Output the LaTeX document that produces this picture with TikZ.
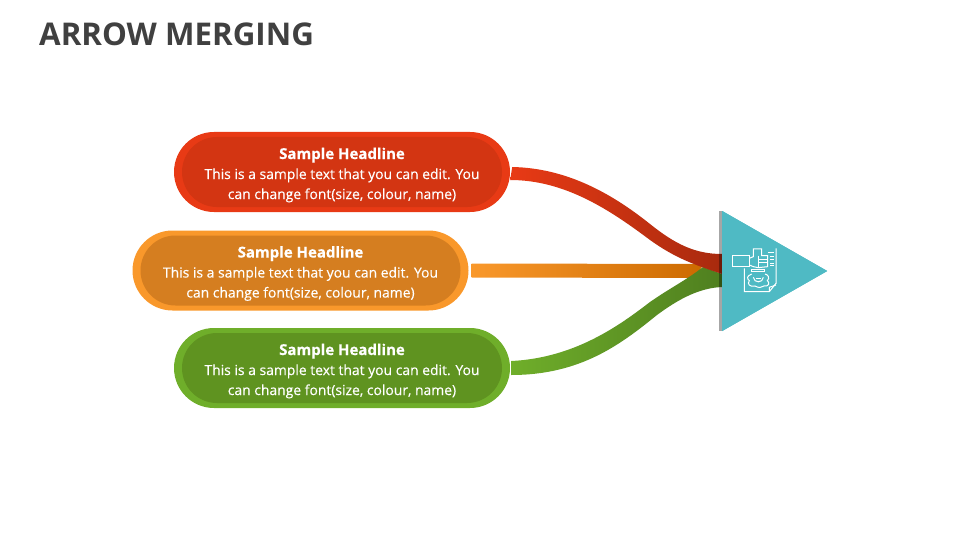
\documentclass[tikz,border=0pt]{standalone}
\usepackage{fontspec}
\setmainfont{Open Sans}
\newfontfamily\semifont[FakeBold=0.35]{Open Sans}
\usetikzlibrary{calc,shapes.geometric}
\definecolor{redOuter}{HTML}{E83A15}
\definecolor{redInner}{HTML}{D33512}
\definecolor{redDark}{HTML}{A82A0E}
\definecolor{orangeOuter}{HTML}{F9982B}
\definecolor{orangeInner}{HTML}{D57E20}
\definecolor{orangeDark}{HTML}{CC6A00}
\definecolor{greenOuter}{HTML}{6FAE2A}
\definecolor{greenInner}{HTML}{5F9320}
\definecolor{greenDark}{HTML}{4F7F1F}
\definecolor{headTeal}{HTML}{4FBAC4}
\newcommand{\pilltext}{{\fontsize{15}{20}\selectfont\bfseries Sample Headline}\\This is a sample text that you can edit. You\\can change font(size, colour, name)}
\tikzset{
	outerpill/.style = {minimum width=336pt, minimum height=80pt, rounded corners=40pt, inner sep=0pt},
	innerpill/.style = {minimum width=320pt, minimum height=70pt, rounded corners=35pt, inner sep=0pt},
	pilllabel/.style = {text=white, align=center, inner sep=0pt, font=\fontsize{13.9}{20}\semifont},
	headshape/.style = {isosceles triangle, isosceles triangle stretches, minimum width=120pt, minimum height=105pt, inner sep=0pt, fill=headTeal, anchor=west},
	iconline/.style = {draw=white, line width=1pt}
}
\begin{document}
\begin{tikzpicture}[x=1pt, y=-1pt]
	\useasboundingbox (0,0) rectangle (960,540);
	\node[anchor=west, inner sep=0pt, text=black!75, font=\fontsize{31.3}{36}\selectfont\bfseries] (title) at (39,34) {ARROW MERGING};

	% pills
	\node[outerpill, fill=redOuter] (redbox) at (342,172) {};
	\node[innerpill, fill=redInner] (redinner) at (redbox) {};
	\node[pilllabel] (redtext) at ($(redbox)+(0,3)$) {\pilltext};
	\node[outerpill, fill=orangeOuter] (orangebox) at (300.5,270.5) {};
	\node[innerpill, fill=orangeInner] (orangeinner) at (orangebox) {};
	\node[pilllabel] (orangetext) at ($(orangebox)+(0,3)$) {\pilltext};
	\node[outerpill, fill=greenOuter] (greenbox) at (342,368) {};
	\node[innerpill, fill=greenInner] (greeninner) at (greenbox) {};
	\node[pilllabel] (greentext) at ($(greenbox)+(0,3)$) {\pilltext};

	\node[headshape] (arrowhead) at (722,271) {};

	% ribbons, orange goes first
	\shade[left color=orangeOuter, right color=orangeDark]
		($(orangebox.east)+(3,-7)$) -- ($(arrowhead.west)+(-18,-7)$) -- ($(arrowhead.west)+(-28,7)$) -- ($(orangebox.east)+(3,7)$) -- cycle;
	\shade[left color=greenOuter, right color=greenDark]
		($(greenbox.east)+(1,-7)$) .. controls (575,358) and (620,325) .. (650,302)
		.. controls (670,288) and (685,281) .. (703,267) -- ($(arrowhead.west)+(0,3)$) -- ($(arrowhead.west)+(0,16)$)
		.. controls (700,288) and (680,298) .. (657,315)
		.. controls (620,345) and (580,375) .. ($(greenbox.east)+(1,7)$) -- cycle;
	\shade[left color=redOuter, right color=redDark]
		($(redbox.east)+(2,-5)$) .. controls (565,168) and (610,192) .. (650,224)
		.. controls (675,244) and (695,254) .. ($(arrowhead.west)+(0,-17)$) -- ($(arrowhead.west)+(0,3)$)
		.. controls (695,265) and (675,258) .. (650,240)
		.. controls (610,210) and (565,180) .. ($(redbox.east)+(0,8)$) -- cycle;

	% shadow of the head
	\fill[black, opacity=.35] ($(arrowhead.right corner)+(-3,0)$) rectangle (arrowhead.left corner);
	\node[headshape] at (arrowhead.west) {};

	% icon, zoomed coordinates
	\begin{scope}[shift={(690,200)}, x=.3333pt, y=-.3333pt]
		\draw[iconline] (128,168) rectangle (178,200);
		\draw[iconline] (178,175) -- (190,170) -- (190,147) -- (215,147) -- (215,167) -- (233,167) -- (233,200) -- (205,203) -- (190,200) -- (178,195);
		\draw[iconline] (205,178) -- (233,178) (205,189) -- (233,189) (205,167) -- (205,200);
		\draw[iconline] (183,208) rectangle (222,216);
		\draw[iconline] (163,205) -- (163,275) -- (238,275) -- (258,250) -- (258,145);
		\draw[iconline] (238,275) -- (238,262) -- (258,255);
		\draw[iconline] (235,158) -- (252,158) (240,170) -- (252,170) (240,180) -- (252,180) (240,190) -- (252,190) (240,197) -- (252,197);
		\draw[iconline] (185,222) .. controls (170,228) and (170,236) .. (178,242) .. controls (170,252) and (180,262) .. (195,258)
			.. controls (205,264) and (215,264) .. (222,258) .. controls (238,260) and (240,248) .. (232,242) .. controls (240,234) and (235,224) .. (225,222);
		\draw[iconline] (190,232) .. controls (192,250) and (218,250) .. (220,232);
		\draw[iconline] (198,236) -- (212,236);
	\end{scope}
\end{tikzpicture}
\end{document}
